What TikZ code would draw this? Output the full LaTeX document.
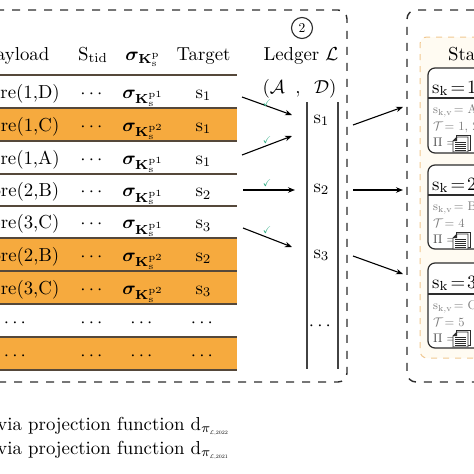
\RequirePackage{fix-cm}
\documentclass[tikz,border=0pt]{standalone}
\usepackage{graphicx}
\usepackage{amsmath,amssymb,bm}
\usetikzlibrary{arrows.meta}
\definecolor{orow}{RGB}{246,170,62}
\definecolor{rulec}{RGB}{85,72,58}
\definecolor{chkc}{RGB}{45,170,130}
\definecolor{framec}{RGB}{45,45,45}
\definecolor{tanc}{RGB}{240,200,145}
\definecolor{creamc}{RGB}{255,251,242}
\definecolor{lgray}{RGB}{125,125,125}
\definecolor{mgray}{RGB}{80,80,80}
\newcommand{\Z}[1]{\scalebox{1.88}{#1}}
\newcommand{\Zs}[1]{\scalebox{1.25}{#1}}
\newcommand{\tinysub}[1]{\scalebox{0.4}{$\scriptstyle #1$}}
\newcommand{\sigK}[1]{\boldsymbol{\sigma}_{\mathbf{K}^{\mathrm{#1}}_{\mathrm{s}}}}
\newcommand{\docicon}[2]{%
  \begin{scope}[shift={(#1,#2)}]
    \draw[framec, line width=0.8pt, fill=white] (3,0) rectangle (17,15);
    \draw[framec, line width=0.8pt, fill=white] (4,2) -- (15,2) -- (15,17) -- (0,17) -- (0,6) -- cycle;
    \fill[framec] (0,6) -- (4,2) -- (4,6) -- cycle;
    \foreach \yy in {7.5,9.5,11.5,13.5,15.5} \draw[framec, line width=1.1pt] (2,\yy) -- (13,\yy);
  \end{scope}}
\begin{document}
\begin{tikzpicture}[x=1pt,y=-1pt,
  tbl/.style={font=\fontsize{10}{12}\selectfont, inner sep=0pt},
  rowrule/.style={draw=rulec, line width=1.3pt},
  outerbox/.style={draw=framec, line width=1.4pt, dash pattern=on 8pt off 8pt, rounded corners=9pt},
  innerbox/.style={draw=tanc, fill=creamc, line width=1pt, dash pattern=on 6pt off 6pt, rounded corners=7pt},
  sbox/.style={draw=framec, line width=1.2pt, rounded corners=7pt, fill=white},
  arr/.style={-{Stealth[length=7pt,width=5.5pt]}, line width=1.1pt, draw=black},
  chk/.style={text=chkc, font=\fontsize{10}{10}\selectfont, inner sep=0pt},
  smallg/.style={font=\fontsize{10}{12}\selectfont, inner sep=0pt, text=lgray},
  smalld/.style={font=\fontsize{10}{12}\selectfont, inner sep=0pt, text=mgray},
  ledline/.style={draw=framec!90, line width=1.2pt}]
\useasboundingbox (0,0) rectangle (474,474);
\clip (0,0) rectangle (474,474);

% ---------- left table ----------
\foreach \a/\b in {108/141,238/271,271/304,337/370} \fill[orow] (-20,\a) rectangle (237,\b);
\foreach \y in {75,108,141,174,206,238,271,304,337,370} \draw[rowrule] (-20,\y) -- (237,\y);

\node[tbl, anchor=base] (hpay) at (16.5,60) {\Z{Payload}};
\node[tbl, anchor=base] (htid) at (93,60) {\Z{$\mathrm{S}_{\mathrm{tid}}$}};
\node[tbl, anchor=base] (hsig) at (143,60) {\Z{$\sigK{p}$}};
\node[tbl, anchor=base] (htgt) at (203.5,60) {\Z{Target}};

\node[tbl, anchor=base] (p1) at (16.5,98)  {\Z{Store(1,D)}};
\node[tbl, anchor=base] (p2) at (16.5,131) {\Z{Store(1,C)}};
\node[tbl, anchor=base] (p3) at (16.5,164) {\Z{Store(1,A)}};
\node[tbl, anchor=base] (p4) at (16.5,196.5) {\Z{Store(2,B)}};
\node[tbl, anchor=base] (p5) at (16.5,228.5) {\Z{Store(3,C)}};
\node[tbl, anchor=base] (p6) at (16.5,261) {\Z{Store(2,B)}};
\node[tbl, anchor=base] (p7) at (16.5,294) {\Z{Store(3,C)}};
\node[tbl, anchor=base] (p8) at (16.5,327) {\Z{$\cdots$}};
\node[tbl, anchor=base] (p9) at (16.5,360) {\Z{$\cdots$}};

\foreach \i/\c in {1/98,2/131,3/164,4/196.5,5/228.5,6/261,7/294,8/327,9/360}
  \node[tbl, anchor=base] (t\i) at (93,\c) {\Z{$\cdots$}};

\node[tbl, anchor=base] (g1) at (143,98)  {\Z{$\sigK{p1}$}};
\node[tbl, anchor=base] (g2) at (143,131) {\Z{$\sigK{p2}$}};
\node[tbl, anchor=base] (g3) at (143,164) {\Z{$\sigK{p1}$}};
\node[tbl, anchor=base] (g4) at (143,196.5) {\Z{$\sigK{p1}$}};
\node[tbl, anchor=base] (g5) at (143,228.5) {\Z{$\sigK{p1}$}};
\node[tbl, anchor=base] (g6) at (143,261) {\Z{$\sigK{p2}$}};
\node[tbl, anchor=base] (g7) at (143,294) {\Z{$\sigK{p2}$}};
\node[tbl, anchor=base] (g8) at (143,327) {\Z{$\cdots$}};
\node[tbl, anchor=base] (g9) at (143,360) {\Z{$\cdots$}};

\node[tbl, anchor=base] (d1) at (203.5,98)  {\Z{$\mathrm{s}_1$}};
\node[tbl, anchor=base] (d2) at (203.5,131) {\Z{$\mathrm{s}_1$}};
\node[tbl, anchor=base] (d3) at (203.5,164) {\Z{$\mathrm{s}_1$}};
\node[tbl, anchor=base] (d4) at (203.5,196.5) {\Z{$\mathrm{s}_2$}};
\node[tbl, anchor=base] (d5) at (203.5,228.5) {\Z{$\mathrm{s}_3$}};
\node[tbl, anchor=base] (d6) at (203.5,261) {\Z{$\mathrm{s}_2$}};
\node[tbl, anchor=base] (d7) at (203.5,294) {\Z{$\mathrm{s}_3$}};
\node[tbl, anchor=base] (d8) at (203.5,327) {\Z{$\cdots$}};
\node[tbl, anchor=base] (d9) at (203.5,360) {\Z{$\cdots$}};

% ---------- ledger box ----------
\draw[outerbox] (-20,10) -- (347,10) -- (347,382) -- (-20,382);
\node[circle, draw=framec, line width=1.1pt, minimum size=21pt, inner sep=0pt,
      font=\fontsize{10}{10}\selectfont] (num2) at (302,28) {\scalebox{1.35}{2}};
\node[tbl, anchor=base] (ledg) at (301,60) {\Z{Ledger $\mathcal{L}$}};
\node[tbl, anchor=base] (ad) at (299.5,93) {\Z{$(\mathcal{A}\;\;,\;\;\mathcal{D})$}};
\draw[ledline] (307,102) -- (307,369);
\draw[ledline] (338,102) -- (338,369);
\node[tbl, anchor=base] (l1) at (321.5,123) {\Z{$\mathrm{s}_1$}};
\node[tbl, anchor=base] (l2) at (321.5,192) {\Z{$\mathrm{s}_2$}};
\node[tbl, anchor=base] (l3) at (321.5,258) {\Z{$\mathrm{s}_3$}};
\node[tbl, anchor=base] (l4) at (321.5,330) {\Z{$\cdots$}};

% ---------- arrows table -> ledger ----------
\coordinate (a1s) at (242,97);  \coordinate (a1e) at (292,115);
\coordinate (a2s) at (242,155); \coordinate (a2e) at (292,136);
\coordinate (a3s) at (243,190); \coordinate (a3e) at (295,190);
\coordinate (a4s) at (243,228); \coordinate (a4e) at (292,247);
\draw[arr] (a1s) -- (a1e);
\draw[arr] (a2s) -- (a2e);
\draw[arr] (a3s) -- (a3e);
\draw[arr] (a4s) -- (a4e);
\node[chk] (c1) at (267,103) {$\checkmark$};
\node[chk] (c2) at (267,140) {$\checkmark$};
\node[chk] (c3) at (267,183) {$\checkmark$};
\node[chk] (c4) at (267,230) {$\checkmark$};

% ---------- arrows ledger -> states ----------
\coordinate (b1s) at (353,125); \coordinate (b1e) at (403,107);
\coordinate (b2s) at (353,190); \coordinate (b2e) at (403,190);
\coordinate (b3s) at (353,256); \coordinate (b3e) at (403,274);
\draw[arr] (b1s) -- (b1e);
\draw[arr] (b2s) -- (b2e);
\draw[arr] (b3s) -- (b3e);

% ---------- state box ----------
\draw[outerbox] (490,10) -- (407,10) -- (407,382) -- (490,382);
\draw[innerbox] (490,37) -- (420,37) -- (420,358) -- (490,358);
\node[tbl, anchor=base west] (sth) at (448,60) {\Z{States}};

\draw[sbox] (500,68) -- (428,68) -- (428,153) -- (500,153);
\draw[framec, line width=1.1pt] (428,98) -- (500,98);
\node[tbl, anchor=base west] (k1) at (432,93) {\Z{$\mathrm{s}_{\mathrm{k}}\!=\!1$}};
\node[smallg, anchor=base west] (v1) at (433,113.5) {\Zs{$\mathrm{s}_{\mathrm{k,v}}\!=$ A}};
\node[smallg, anchor=base west] (tt1) at (433,130) {\Zs{$\mathcal{T}\!=$ 1, 2}};
\node[smalld, anchor=base west] (pi1) at (433,146) {\Zs{$\Pi$ =}};
\docicon{453}{135}

\draw[sbox] (500,165) -- (428,165) -- (428,249) -- (500,249);
\draw[framec, line width=1.1pt] (428,195) -- (500,195);
\node[tbl, anchor=base west] (k2) at (432,190) {\Z{$\mathrm{s}_{\mathrm{k}}\!=\!2$}};
\node[smallg, anchor=base west] (v2) at (433,210.5) {\Zs{$\mathrm{s}_{\mathrm{k,v}}\!=$ B}};
\node[smallg, anchor=base west] (tt2) at (433,227) {\Zs{$\mathcal{T}\!=$ 4}};
\node[smalld, anchor=base west] (pi2) at (433,243) {\Zs{$\Pi$ =}};
\docicon{453}{232}

\draw[sbox] (500,263) -- (428,263) -- (428,348) -- (500,348);
\draw[framec, line width=1.1pt] (428,294) -- (500,294);
\node[tbl, anchor=base west] (k3) at (432,288) {\Z{$\mathrm{s}_{\mathrm{k}}\!=\!3$}};
\node[smallg, anchor=base west] (v3) at (433,309.5) {\Zs{$\mathrm{s}_{\mathrm{k,v}}\!=$ C}};
\node[smallg, anchor=base west] (tt3) at (433,326) {\Zs{$\mathcal{T}\!=$ 5}};
\node[smalld, anchor=base west] (pi3) at (433,342) {\Zs{$\Pi$ =}};
\docicon{453}{330}

% ---------- legend ----------
\node[tbl, anchor=base east] (lg1) at (230,430) {\Z{Signed via projection function $\mathrm{d}_{\pi_{\tinysub{\mathcal{L},2022}}}$}};
\node[tbl, anchor=base east] (lg2) at (230,454) {\Z{Signed via projection function $\mathrm{d}_{\pi_{\tinysub{\mathcal{L},2021}}}$}};
\end{tikzpicture}
\end{document}
